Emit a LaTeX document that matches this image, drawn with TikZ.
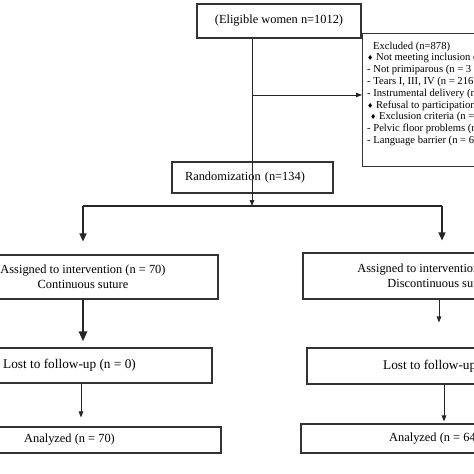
\documentclass[tikz,border=0pt]{standalone}
\usepackage{fontspec}
\setmainfont{Liberation Serif}
\newfontfamily\symfont{DejaVu Sans}
\usetikzlibrary{arrows.meta}
\newcommand{\dia}{{\symfont\fontsize{7}{7}\selectfont ♦}}
\tikzset{
    flow/.style={draw=black!85,line width=1.4pt,-{Triangle[length=8pt,width=7pt]}},
    bigflow/.style={draw=black!85,line width=2.4pt,-{Triangle[length=10pt,width=8pt]}},
    thinflow/.style={draw=black!85,line width=0.9pt,-{Triangle[length=6pt,width=4.5pt]}}
}
\begin{document}
\begin{tikzpicture}[x=1pt,y=-1pt]
            \useasboundingbox (0,0) rectangle (474,474);
            \fill[white] (0,0) rectangle (474,474);
            \clip (0,0) rectangle (474,474);
            \begin{scope}[every node/.style={rectangle,draw=black!80,line width=1.1pt,inner sep=0pt,align=center,font=\fontsize{12.4}{14.5}\selectfont}]
                \node[minimum width=164,minimum height=34] (elig) at (279,21) {(Eligible women n=1012)};
                \node[minimum width=160,minimum height=133,anchor=north west] (excl) at (362,33) {};
                \node[text width=135,align=left,inner xsep=13,minimum height=31] (rand) at (252.5,177.5) {Randomization (n=134)};
                \node[minimum width=270,minimum height=44] (asgl) at (83,277) {Assigned to intervention (n = 70)\\Continuous suture};
                \node[minimum width=274,minimum height=46] (asgr) at (440,276) {Assigned to intervention (n = 64)\\Discontinuous suture};
                \node[minimum width=285,minimum height=35,font=\fontsize{13.3}{15}\selectfont] (lostl) at (69.5,365.5) {Lost to follow-up (n = 0)};
                \node[minimum width=285,minimum height=36,font=\fontsize{13.3}{15}\selectfont] (lostr) at (449.5,366) {Lost to follow-up (n = 0)};
                \node[minimum width=303,minimum height=26] (anal) at (69.5,440) {Analyzed (n = 70)};
                \node[minimum width=267,minimum height=29] (anar) at (434.5,438.5) {Analyzed (n = 64)};
            \end{scope}

            % excluded list
            \node[anchor=north west,align=left,inner sep=0pt,font=\fontsize{10.6}{11.8}\selectfont] (excltxt) at (367,41.5) {%
                \hspace*{6pt}Excluded (n=878)\\
                \dia\ Not meeting inclusion c\\
                - Not primiparous (n = 3\\
                - Tears I, III, IV (n = 216\\
                - Instrumental delivery (n\\
                \dia\ Refusal to participation (\\
                \hspace*{3pt}\dia\ Exclusion criteria (n = \\
                - Pelvic floor problems (n\\
                - Language barrier (n = 6};

            \coordinate (split) at (252,206);
            \coordinate (exbr) at (252,95);
            \coordinate (bl) at (83,206);
            \coordinate (br) at (442,206);
            \coordinate (ll) at (81,0);
            \coordinate (rl) at (439,0);
            \coordinate (rr) at (444,0);

            \draw[thinflow] (elig.south -| split) -- (split);
            \draw[thinflow] (exbr) -- (exbr -| excl.west);
            \draw[draw=black!85,line width=1.4pt] (bl) -- (br);
            \path
                (bl) edge[flow,shorten >=13pt] (bl |- asgl.north)
                (br) edge[flow,shorten >=12pt] (br |- asgr.north)
                (asgl.south) edge[bigflow,shorten >=6pt] (asgl.south |- lostl.north)
                (ll |- lostl.south) edge[thinflow,shorten >=9pt] (ll |- anal.north)
                (rl |- asgr.south) edge[thinflow,shorten >=25pt] (rl |- lostr.north)
                (rr |- lostr.south) edge[thinflow,shorten >=2pt] (rr |- anar.north);
        \end{tikzpicture}
\end{document}
